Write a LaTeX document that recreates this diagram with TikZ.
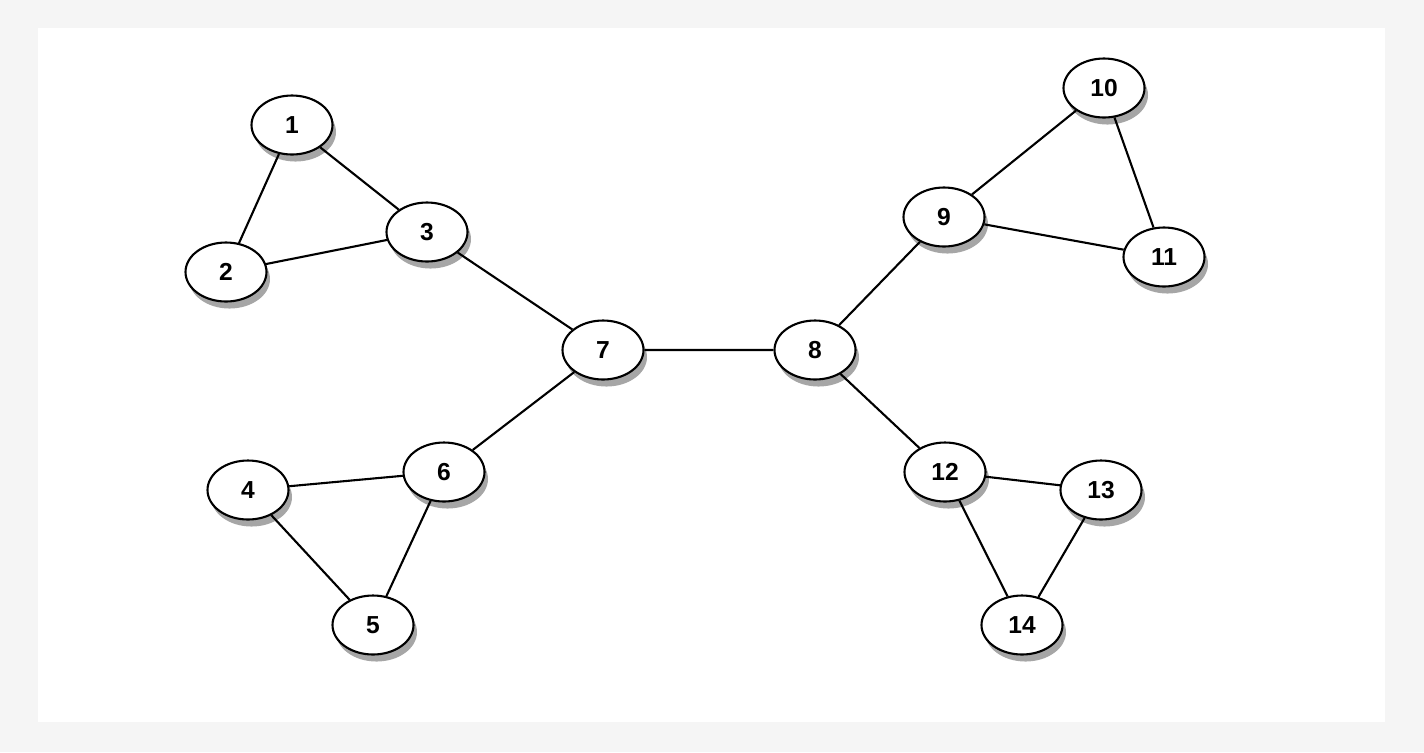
\documentclass[tikz,border=0pt]{standalone}
\usepackage{fontspec}
\setmainfont{Liberation Sans}
\usetikzlibrary{shadows,shapes.geometric}
\begin{document}
\begin{tikzpicture}[x=0.02cm,y=-0.02cm,
  nd/.style={ellipse,draw=black,line width=1.2pt,fill=white,minimum width=1.62cm,minimum height=1.18cm,inner sep=0pt,
    font=\fontsize{14}{16}\selectfont\bfseries,
    drop shadow={shadow xshift=2pt,shadow yshift=-4pt,fill=black,opacity=0.35}},
  ed/.style={line width=1.2pt}]
\fill[black!4] (0,0) rectangle (1424,752);
\fill[white] (38,28) rectangle (1385,722);
\useasboundingbox (0,0) rectangle (1424,752);
\node[nd] (n1) at (292,125) {1};
\node[nd] (n2) at (226,272) {2};
\node[nd] (n3) at (427,232) {3};
\node[nd] (n4) at (248,490) {4};
\node[nd] (n5) at (373,625) {5};
\node[nd] (n6) at (444,472) {6};
\node[nd] (n7) at (603,350) {7};
\node[nd] (n8) at (815,350) {8};
\node[nd] (n9) at (944,217) {9};
\node[nd] (n10) at (1104,88) {10};
\node[nd] (n11) at (1164,257) {11};
\node[nd] (n12) at (945,472) {12};
\node[nd] (n13) at (1101,490) {13};
\node[nd] (n14) at (1022,625) {14};
\draw[ed] (n1)--(n2) (n1)--(n3) (n2)--(n3) (n3)--(n7) (n7)--(n6) (n6)--(n4) (n6)--(n5) (n4)--(n5)
 (n7)--(n8) (n8)--(n9) (n9)--(n10) (n9)--(n11) (n10)--(n11) (n8)--(n12) (n12)--(n13) (n12)--(n14) (n13)--(n14);
\end{tikzpicture}
\end{document}
